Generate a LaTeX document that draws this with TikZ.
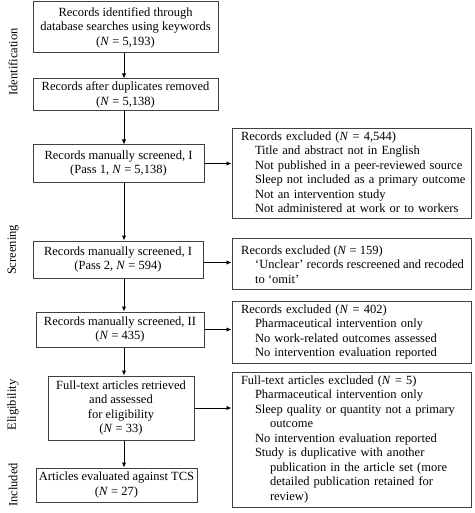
\documentclass[tikz,border=0pt]{standalone}
\usepackage{fontspec}
\setmainfont{Liberation Serif}
\usetikzlibrary{arrows.meta}
\newcommand{\ind}{\hspace*{14pt}}
\newcommand{\indd}{\hspace*{29pt}}
\begin{document}
\begin{tikzpicture}[x=1pt,y=-1pt,
  every node/.style={font=\fontsize{12.5}{14.5}\selectfont},
  lbox/.style={draw=black!75, line width=1pt, inner sep=0pt, align=center},
  rbox/.style={draw=black!75, line width=1pt, inner xsep=0pt, inner ysep=0pt, text width=239pt, align=left},
  rline/.style={anchor=base west, inner sep=0pt},
  arr/.style={-{Latex[length=5pt,width=4.5pt]}, line width=0.9pt},
  stage/.style={rotate=90, font=\fontsize{12.5}{14}\selectfont}]
\useasboundingbox (0,0) rectangle (474,513);
\fill[white] (0,0) rectangle (474,513);
% left column
\node[lbox, minimum width=185pt, minimum height=51pt] (b1) at (125.5,27.5)
  {Records identified through\\database searches using keywords\\(\textit{N} = 5,193)};
\node[lbox, minimum width=185pt, minimum height=32pt] (b2) at (125.5,95)
  {Records after duplicates removed\\(\textit{N} = 5,138)};
\node[lbox, minimum width=171pt, minimum height=37pt] (b3) at (118.5,163.5)
  {Records manually screened, I\\(Pass 1, \textit{N} = 5,138)};
\node[lbox, minimum width=170pt, minimum height=37pt] (b4) at (118,259.5)
  {Records manually screened, I\\(Pass 2, \textit{N} = 594)};
\node[lbox, minimum width=168pt, minimum height=35pt] (b5) at (120,329.5)
  {Records manually screened, II\\(\textit{N} = 435)};
\node[lbox, minimum width=146pt, minimum height=64pt] (b6) at (121,408)
  {Full-text articles retrieved\\and assessed\\for eligibility\\(\textit{N} = 33)};
\node[lbox, minimum width=161pt, minimum height=34pt] (b7) at (116.5,485)
  {Articles evaluated against TCS\\(\textit{N} = 27)};
% right column
\node[rbox, minimum height=89pt] (r1) at (351.5,173.5)
  {\hspace*{9pt}\begin{tabular}{@{}l@{}}
   Records excluded (\textit{N} = 4,544)\\
   \ind Title and abstract not in English\\
   \ind Not published in a peer-reviewed source\\
   \ind Sleep not included as a primary outcome\\
   \ind Not an intervention study\\
   \ind Not administered at work or to workers
   \end{tabular}};
\node[rbox, minimum height=51pt] (r2) at (351.5,263.5) {};
\node[rline] (r2a) at (241,254) {Records excluded (\textit{N} = 159)};
\node[rline] (r2b) at (255,268.5) {‘Unclear’ records rescreened and recoded};
\node[rline] (r2c) at (255,283) {to ‘omit’};
\node[rbox, minimum height=62pt] (r3) at (351.5,332)
  {\hspace*{9pt}\begin{tabular}{@{}l@{}}
   Records excluded (\textit{N} = 402)\\
   \ind Pharmaceutical intervention only\\
   \ind No work-related outcomes assessed\\
   \ind No intervention evaluation reported
   \end{tabular}};
\node[rbox, minimum height=135pt] (r4) at (351.5,439.5)
  {\hspace*{9pt}\begin{tabular}{@{}l@{}}
   Full-text articles excluded (\textit{N} = 5)\\
   \ind Pharmaceutical intervention only\\
   \ind Sleep quality or quantity not a primary\\
   \indd outcome\\
   \ind No intervention evaluation reported\\
   \ind Study is duplicative with another\\
   \indd publication in the article set (more\\
   \indd detailed publication retained for\\
   \indd review)
   \end{tabular}};
% stage labels
\node[stage] (s1) at (13,62) {Identification};
\node[stage] (s2) at (13,250) {Screening};
\node[stage] (s3) at (13,405) {Eligibility};
\node[stage] (s4) at (13,485) {Included};
% arrows
\coordinate (ax) at (124,0);
\draw[arr] (b1.south -| ax) -- (b2.north -| ax);
\draw[arr] (b2.south -| ax) -- (b3.north -| ax);
\draw[arr] (b3.south -| ax) -- (b4.north -| ax);
\draw[arr] (b4.south -| ax) -- (b5.north -| ax);
\draw[arr] (b5.south -| ax) -- (b6.north -| ax);
\draw[arr] (b6.south -| ax) -- (b7.north -| ax);
\draw[arr] (b3.east) -- (b3.east -| r1.west);
\draw[arr] ([yshift=-3pt]b4.east) -- ([yshift=-3pt]b4.east -| r2.west);
\draw[arr] (b5.east) -- (b5.east -| r3.west);
\draw[arr] (b6.east) -- (b6.east -| r4.west);
\end{tikzpicture}
\end{document}
